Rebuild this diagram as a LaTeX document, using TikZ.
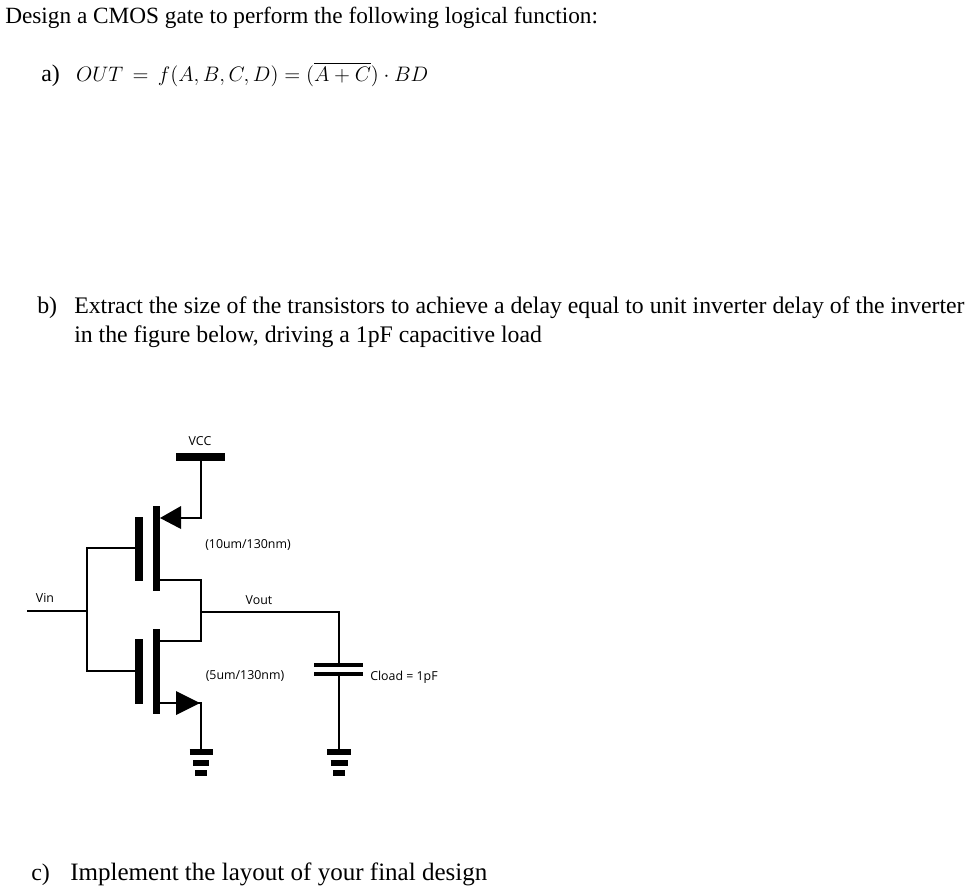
\documentclass[tikz,border=0pt]{standalone}
\usepackage{amssymb}
\usepackage{amsmath}
\usepackage{fontspec}
\setmainfont{Liberation Serif}
\newfontfamily\labelfont{Open Sans}
\usepackage{tikz}
\tikzset{
	wire/.style={line width=2pt},
	bar/.style={line width=5pt},
	bigtext/.style={anchor=base west,inner sep=0pt,font=\fontsize{17}{20}\selectfont},
	lab/.style={inner sep=0pt,font=\labelfont\fontsize{8.8}{10}\selectfont}
}
\begin{document}
\begin{tikzpicture}[x=0.025cm,y=-0.025cm]
	\useasboundingbox (0,0) rectangle (968,890);
	%TEXT
	\node[bigtext,font=\fontsize{16.55}{20}\selectfont] (title) at (5,23)  {Design a CMOS gate to perform the following logical function:};
	\node[bigtext] (parta) at (41,81) {a)\hspace{0.68em}{\fontsize{14.4}{18}\selectfont\scalebox{1.035}{$OUT\,=\,f(A,B,C,D)=(\overline{A+C})\cdot BD$}}};
	\node[bigtext] (partb) at (37,313) {b)};
	\node[bigtext,font=\fontsize{16.9}{20}\selectfont] (partbt) at (74,313) {Extract the size of the transistors to achieve a delay equal to unit inverter delay of the inverter};
	\node[bigtext,font=\fontsize{16.9}{20}\selectfont] (partbb) at (74,342) {in the figure below, driving a 1pF capacitive load};
	\node[bigtext] (partc) at (31,880) {c)};
	\node[bigtext,font=\fontsize{17.8}{20}\selectfont] (partct) at (70,880) {Implement the layout of your final design};

	%LABELS
	\node[lab] (vcc) at (200,441)   {VCC};
	\node[lab] (psize) at (248,545) {(10um/130nm)};
	\node[lab] (vin) at (45,598)    {Vin};
	\node[lab] (vout) at (259,600)  {Vout};
	\node[lab] (nsize) at (245,676) {(5um/130nm)};
	\node[lab] (cload) at (404,677) {Cload = 1pF};

	%POINTS
	\coordinate (vccl) at (176,457);	%supply bar
	\coordinate (vccr) at (225,457);
	\coordinate (vccm) at (201,457);
	\coordinate (ps) at (201,518);		%pmos source
	\coordinate (pd) at (201,580);		%pmos drain
	\coordinate (pc) at (160,580);
	\coordinate (pg) at (135,548);		%pmos gate
	\coordinate (nd) at (201,641);		%nmos drain
	\coordinate (nc) at (160,641);
	\coordinate (ng) at (135,671);		%nmos gate
	\coordinate (ns) at (201,703);		%nmos source
	\coordinate (ngnd) at (201,752);
	\coordinate (inl) at (27,611);		%input
	\coordinate (inm) at (87,611);
	\coordinate (ing) at (87,548);
	\coordinate (inn) at (87,671);
	\coordinate (outm) at (201,612);	%output
	\coordinate (outr) at (339,612);
	\coordinate (captop) at (339,665);
	\coordinate (capbot) at (339,674);
	\coordinate (cgnd) at (339,752);

	%WIRES
	\draw[wire] (vccm)--(ps)--(181,518);
	\draw[wire] (pc)--(pd)--(nd)--(nc);
	\draw[wire] (inl)--(inm);
	\draw[wire] (pg)--(ing)--(inn)--(ng);
	\draw[wire] (160,703)--(ns)--(ngnd);
	\draw[wire] (outm)--(outr)--(captop);
	\draw[wire] (capbot)--(cgnd);

	%TRANSISTORS
	\draw[bar] (vccl)--(vccr);
	\draw[bar] (139,517)--(139,581);	%pmos gate plate
	\draw[bar] (156.5,506)--(156.5,591);
	\draw[bar] (139,639)--(139,704);	%nmos gate plate
	\draw[bar] (156.5,629)--(156.5,714);
	\fill (160,518)--(181,506)--(181,529)--cycle;
	\fill (200,703)--(176,691)--(176,715)--cycle;

	%CAPACITOR
	\draw[line width=2.6pt] (314,665)--(363,665);
	\draw[line width=2.6pt] (314,674)--(363,674);

	%GROUNDS
	\foreach \x/\a/\b/\c in {201/11.5/8/6,339/12/8.5/6}{
		\draw[line width=4.2pt] (\x-\a,752)--(\x+\a,752);
		\draw[line width=4.2pt] (\x-\b,763)--(\x+\b,763);
		\draw[line width=4.2pt] (\x-\c,773)--(\x+\c,773);
	}
\end{tikzpicture}
\end{document}
